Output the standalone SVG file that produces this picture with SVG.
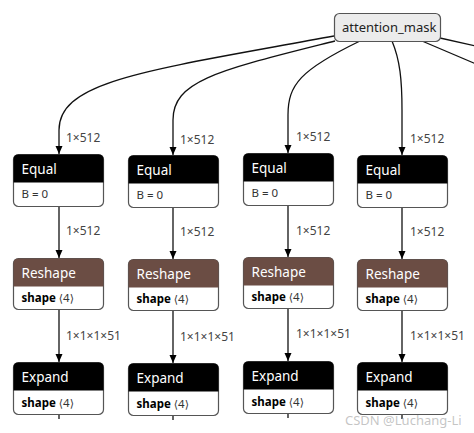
<svg xmlns="http://www.w3.org/2000/svg" width="474" height="433" viewBox="0 0 474 433">
<defs>
<marker id="arr" viewBox="0 0 8 8" refX="8" refY="4" markerWidth="8" markerHeight="8" markerUnits="userSpaceOnUse" orient="auto">
<path d="M0,0.5 L8,4 L0,7.5 Z" fill="#000"/>
</marker>
</defs>
<style>
text{font-family:"Noto Sans","Open Sans","DejaVu Sans",sans-serif}
.box{fill:#fff;stroke:#555;stroke-width:1.2}
.hdr{stroke:none}
.eq{fill:#000}
.rs{fill:#6b4d44}
.title{font-size:13.5px;fill:#fff}
.attr{font-size:11.5px;fill:#333}
.b{font-weight:bold;fill:#000}
.ang{font-family:"DejaVu Sans",sans-serif;font-size:11px}
.lbl{font-size:12px;fill:#444}
.e{fill:none;stroke:#111;stroke-width:1.3}
.ea{fill:none;stroke:#111;stroke-width:1.3;marker-end:url(#arr)}
</style>
<rect width="474" height="433" fill="#fff"/>
<g id="connectors">
<path class="ea" d="M334,36 C150,70 59,80 59,130 L59,154"/>
<path class="ea" d="M335,41 C220,70 173,80 173,120 L173,155"/>
<path class="ea" d="M360,41 C300,70 288,85 288,115 L288,153"/>
<path class="ea" d="M392,41 C400,60 402,80 402,110 L402,155"/>
<path class="e" d="M440,38 L476,46"/>
<path class="e" d="M422,41 L476,64"/>
<path class="ea" d="M59,206 L59,258"/>
<path class="ea" d="M173,207 L173,259"/>
<path class="ea" d="M288,205 L288,257"/>
<path class="ea" d="M402,207 L402,259"/>
<path class="ea" d="M59,310 L59,362"/>
<path class="ea" d="M173,311 L173,363"/>
<path class="ea" d="M288,309 L288,361"/>
<path class="ea" d="M402,310 L402,362"/>
<path class="e" d="M59,414 L59,419"/>
<path class="e" d="M173,415 L173,420"/>
<path class="e" d="M288,413 L288,418"/>
<path class="e" d="M402,414 L402,419"/>
<text class="lbl" x="66" y="142">1×512</text>
<text class="lbl" x="180" y="144">1×512</text>
<text class="lbl" x="296" y="141">1×512</text>
<text class="lbl" x="410" y="143">1×512</text>
<text class="lbl" x="66" y="235">1×512</text>
<text class="lbl" x="180" y="236">1×512</text>
<text class="lbl" x="296" y="235">1×512</text>
<text class="lbl" x="410" y="236">1×512</text>
<text class="lbl" x="66" y="340">1×1×1×51</text>
<text class="lbl" x="180" y="341">1×1×1×51</text>
<text class="lbl" x="296" y="338">1×1×1×51</text>
<text class="lbl" x="410" y="340">1×1×1×51</text>
</g>
<g id="attention_mask">
<rect x="334.5" y="13.5" width="106" height="28" rx="5" fill="#ececec" stroke="#555" stroke-width="1.2"/>
<text x="342" y="32" font-size="13" fill="#222">attention_mask</text>
</g>
<g id="equal1" transform="translate(13.5,154.5)">
<rect class="box" width="90" height="52" rx="5"/>
<path class="hdr eq" d="M0,28 V5 Q0,0 5,0 H85 Q90,0 90,5 V28 Z"/>
<text class="title" x="8" y="19">Equal</text>
<text class="attr" x="8" y="43">B = 0</text>
</g>
<g id="equal2" transform="translate(128.5,155.5)">
<rect class="box" width="90" height="52" rx="5"/>
<path class="hdr eq" d="M0,28 V5 Q0,0 5,0 H85 Q90,0 90,5 V28 Z"/>
<text class="title" x="8" y="19">Equal</text>
<text class="attr" x="8" y="43">B = 0</text>
</g>
<g id="equal3" transform="translate(243.5,153.5)">
<rect class="box" width="90" height="52" rx="5"/>
<path class="hdr eq" d="M0,28 V5 Q0,0 5,0 H85 Q90,0 90,5 V28 Z"/>
<text class="title" x="8" y="19">Equal</text>
<text class="attr" x="8" y="43">B = 0</text>
</g>
<g id="equal4" transform="translate(357.5,155.5)">
<rect class="box" width="90" height="52" rx="5"/>
<path class="hdr eq" d="M0,28 V5 Q0,0 5,0 H85 Q90,0 90,5 V28 Z"/>
<text class="title" x="8" y="19">Equal</text>
<text class="attr" x="8" y="43">B = 0</text>
</g>
<g id="reshape1" transform="translate(13.5,258.5)">
<rect class="box" width="90" height="51" rx="5"/>
<path class="hdr rs" d="M0,28 V5 Q0,0 5,0 H85 Q90,0 90,5 V28 Z"/>
<text class="title" x="8" y="19">Reshape</text>
<text class="attr" x="8" y="43"><tspan class="b">shape</tspan> <tspan class="ang">⟨</tspan>4<tspan class="ang">⟩</tspan></text>
</g>
<g id="reshape2" transform="translate(128.5,259.5)">
<rect class="box" width="90" height="51" rx="5"/>
<path class="hdr rs" d="M0,28 V5 Q0,0 5,0 H85 Q90,0 90,5 V28 Z"/>
<text class="title" x="8" y="19">Reshape</text>
<text class="attr" x="8" y="43"><tspan class="b">shape</tspan> <tspan class="ang">⟨</tspan>4<tspan class="ang">⟩</tspan></text>
</g>
<g id="reshape3" transform="translate(243.5,257.5)">
<rect class="box" width="90" height="51" rx="5"/>
<path class="hdr rs" d="M0,28 V5 Q0,0 5,0 H85 Q90,0 90,5 V28 Z"/>
<text class="title" x="8" y="19">Reshape</text>
<text class="attr" x="8" y="43"><tspan class="b">shape</tspan> <tspan class="ang">⟨</tspan>4<tspan class="ang">⟩</tspan></text>
</g>
<g id="reshape4" transform="translate(357.5,259.5)">
<rect class="box" width="90" height="51" rx="5"/>
<path class="hdr rs" d="M0,28 V5 Q0,0 5,0 H85 Q90,0 90,5 V28 Z"/>
<text class="title" x="8" y="19">Reshape</text>
<text class="attr" x="8" y="43"><tspan class="b">shape</tspan> <tspan class="ang">⟨</tspan>4<tspan class="ang">⟩</tspan></text>
</g>
<g id="expand1" transform="translate(13.5,362.5)">
<rect class="box" width="90" height="52" rx="5"/>
<path class="hdr eq" d="M0,28 V5 Q0,0 5,0 H85 Q90,0 90,5 V28 Z"/>
<text class="title" x="8" y="19">Expand</text>
<text class="attr" x="8" y="44"><tspan class="b">shape</tspan> <tspan class="ang">⟨</tspan>4<tspan class="ang">⟩</tspan></text>
</g>
<g id="expand2" transform="translate(128.5,363.5)">
<rect class="box" width="90" height="52" rx="5"/>
<path class="hdr eq" d="M0,28 V5 Q0,0 5,0 H85 Q90,0 90,5 V28 Z"/>
<text class="title" x="8" y="19">Expand</text>
<text class="attr" x="8" y="44"><tspan class="b">shape</tspan> <tspan class="ang">⟨</tspan>4<tspan class="ang">⟩</tspan></text>
</g>
<g id="expand3" transform="translate(243.5,361.5)">
<rect class="box" width="90" height="52" rx="5"/>
<path class="hdr eq" d="M0,28 V5 Q0,0 5,0 H85 Q90,0 90,5 V28 Z"/>
<text class="title" x="8" y="19">Expand</text>
<text class="attr" x="8" y="44"><tspan class="b">shape</tspan> <tspan class="ang">⟨</tspan>4<tspan class="ang">⟩</tspan></text>
</g>
<g id="expand4" transform="translate(357.5,362.5)">
<rect class="box" width="90" height="52" rx="5"/>
<path class="hdr eq" d="M0,28 V5 Q0,0 5,0 H85 Q90,0 90,5 V28 Z"/>
<text class="title" x="8" y="19">Expand</text>
<text class="attr" x="8" y="44"><tspan class="b">shape</tspan> <tspan class="ang">⟨</tspan>4<tspan class="ang">⟩</tspan></text>
</g>
<text x="345" y="425" font-size="13" fill="#bbb" fill-opacity="0.85">CSDN @Luchang-Li</text>
</svg>
